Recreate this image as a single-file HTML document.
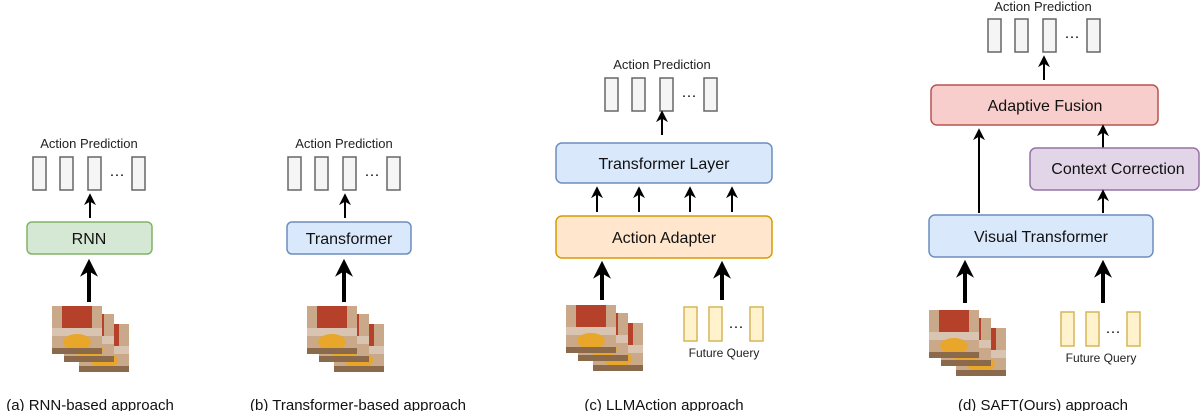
<!DOCTYPE html>
<html><head><meta charset="utf-8"><style>
html,body{margin:0;padding:0;background:#fff;}
svg{display:block;font-family:"Liberation Sans",Arial,sans-serif;}
</style></head><body>
<svg width="1200" height="411" viewBox="0 0 1200 411" xmlns="http://www.w3.org/2000/svg">
<defs>
<marker id="ah" viewBox="0 0 10 10" refX="6" refY="5" markerUnits="userSpaceOnUse" markerWidth="12" markerHeight="12" orient="auto"><path d="M0,0 L10,5 L0,10 L3,5 z" fill="#000"/></marker>
<marker id="ahb" viewBox="0 0 10 10" refX="6" refY="5" markerUnits="userSpaceOnUse" markerWidth="18" markerHeight="18" orient="auto"><path d="M0,0 L10,5 L0,10 L3,5 z" fill="#000"/></marker>
<g id="pic">
  <rect width="50" height="48" fill="#c9a98a"/>
  <rect x="10" y="0" width="30" height="22" fill="#b5412b"/>
  <rect x="0" y="22" width="50" height="8" fill="#d8c4b0"/>
  <ellipse cx="25" cy="36" rx="14" ry="8" fill="#e8a62a"/>
  <rect x="0" y="42" width="50" height="6" fill="#8a6a4a"/>
</g>
<g id="stack">
  <use href="#pic" x="27" y="18"/>
  <use href="#pic" x="12" y="8"/>
  <use href="#pic" x="0" y="0"/>
</g>
<g id="pred">
  <rect x="0" y="0" width="13" height="33" fill="#f5f5f5" stroke="#666" stroke-width="1.5"/>
  <rect x="27" y="0" width="13" height="33" fill="#f5f5f5" stroke="#666" stroke-width="1.5"/>
  <rect x="55" y="0" width="13" height="33" fill="#f5f5f5" stroke="#666" stroke-width="1.5"/>
  <rect x="99" y="0" width="13" height="33" fill="#f5f5f5" stroke="#666" stroke-width="1.5"/>
  <text x="84" y="22" font-size="15" text-anchor="middle">···</text>
</g>
<g id="query">
  <rect x="0" y="0" width="13" height="34" fill="#fff2cc" stroke="#d6b656" stroke-width="1.5"/>
  <rect x="25" y="0" width="13" height="34" fill="#fff2cc" stroke="#d6b656" stroke-width="1.5"/>
  <rect x="66" y="0" width="13" height="34" fill="#fff2cc" stroke="#d6b656" stroke-width="1.5"/>
  <text x="52" y="24" font-size="15" text-anchor="middle">···</text>
  <text x="40" y="50" font-size="12" text-anchor="middle" fill="#222">Future Query</text>
</g>
</defs>

<!-- (a) -->
<text x="89" y="148" font-size="13" text-anchor="middle" fill="#222">Action Prediction</text>
<use href="#pred" x="33" y="157"/>
<line x1="90" y1="218" x2="90" y2="198" stroke="#000" stroke-width="2" marker-end="url(#ah)"/>
<rect x="27" y="222" width="125" height="32" rx="5" fill="#d5e8d4" stroke="#82b366" stroke-width="1.5"/>
<text x="89" y="244" font-size="16" text-anchor="middle" fill="#111">RNN</text>
<line x1="89" y1="302" x2="89" y2="266" stroke="#000" stroke-width="4" marker-end="url(#ahb)"/>
<use href="#stack" x="52" y="306"/>
<text x="90" y="410" font-size="15" text-anchor="middle" fill="#111">(a) RNN-based approach</text>

<!-- (b) -->
<text x="344" y="148" font-size="13" text-anchor="middle" fill="#222">Action Prediction</text>
<use href="#pred" x="288" y="157"/>
<line x1="345" y1="218" x2="345" y2="198" stroke="#000" stroke-width="2" marker-end="url(#ah)"/>
<rect x="287" y="222" width="124" height="32" rx="5" fill="#dae8fc" stroke="#6c8ebf" stroke-width="1.5"/>
<text x="349" y="244" font-size="16" text-anchor="middle" fill="#111">Transformer</text>
<line x1="344" y1="302" x2="344" y2="266" stroke="#000" stroke-width="4" marker-end="url(#ahb)"/>
<use href="#stack" x="307" y="306"/>
<text x="358" y="410" font-size="15" text-anchor="middle" fill="#111">(b) Transformer-based approach</text>

<!-- (c) -->
<text x="662" y="69" font-size="13" text-anchor="middle" fill="#222">Action Prediction</text>
<use href="#pred" x="605" y="78"/>
<line x1="662" y1="135" x2="662" y2="115" stroke="#000" stroke-width="2" marker-end="url(#ah)"/>
<rect x="556" y="143" width="216" height="40" rx="6" fill="#dae8fc" stroke="#6c8ebf" stroke-width="1.5"/>
<text x="664" y="169" font-size="16" text-anchor="middle" fill="#111">Transformer Layer</text>
<line x1="597" y1="212" x2="597" y2="191" stroke="#000" stroke-width="2" marker-end="url(#ah)"/>
<line x1="639" y1="212" x2="639" y2="191" stroke="#000" stroke-width="2" marker-end="url(#ah)"/>
<line x1="690" y1="212" x2="690" y2="191" stroke="#000" stroke-width="2" marker-end="url(#ah)"/>
<line x1="732" y1="212" x2="732" y2="191" stroke="#000" stroke-width="2" marker-end="url(#ah)"/>
<rect x="556" y="216" width="216" height="42" rx="6" fill="#ffe6cc" stroke="#d79b00" stroke-width="1.5"/>
<text x="664" y="243" font-size="16" text-anchor="middle" fill="#111">Action Adapter</text>
<line x1="602" y1="300" x2="602" y2="268" stroke="#000" stroke-width="4" marker-end="url(#ahb)"/>
<line x1="722" y1="300" x2="722" y2="268" stroke="#000" stroke-width="4" marker-end="url(#ahb)"/>
<use href="#stack" x="566" y="305"/>
<use href="#query" x="684" y="307"/>
<text x="664" y="410" font-size="15" text-anchor="middle" fill="#111">(c) LLMAction approach</text>

<!-- (d) -->
<text x="1043" y="11" font-size="13" text-anchor="middle" fill="#222">Action Prediction</text>
<use href="#pred" x="988" y="19"/>
<line x1="1044" y1="80" x2="1044" y2="60" stroke="#000" stroke-width="2" marker-end="url(#ah)"/>
<rect x="931" y="85" width="227" height="40" rx="6" fill="#f8cecc" stroke="#b85450" stroke-width="1.5"/>
<text x="1045" y="111" font-size="16" text-anchor="middle" fill="#111">Adaptive Fusion</text>
<line x1="979" y1="213" x2="979" y2="133" stroke="#000" stroke-width="2" marker-end="url(#ah)"/>
<line x1="1103" y1="148" x2="1103" y2="129" stroke="#000" stroke-width="2" marker-end="url(#ah)"/>
<rect x="1030" y="148" width="169" height="42" rx="6" fill="#e1d5e7" stroke="#9673a6" stroke-width="1.5"/>
<text x="1118" y="174" font-size="16" text-anchor="middle" fill="#111">Context Correction</text>
<line x1="1103" y1="213" x2="1103" y2="194" stroke="#000" stroke-width="2" marker-end="url(#ah)"/>
<rect x="929" y="215" width="224" height="42" rx="6" fill="#dae8fc" stroke="#6c8ebf" stroke-width="1.5"/>
<text x="1041" y="242" font-size="16" text-anchor="middle" fill="#111">Visual Transformer</text>
<line x1="965" y1="303" x2="965" y2="267" stroke="#000" stroke-width="4" marker-end="url(#ahb)"/>
<line x1="1103" y1="303" x2="1103" y2="267" stroke="#000" stroke-width="4" marker-end="url(#ahb)"/>
<use href="#stack" x="929" y="310"/>
<use href="#query" x="1061" y="312"/>
<text x="1043" y="410" font-size="15" text-anchor="middle" fill="#111">(d) SAFT(Ours) approach</text>
</svg>
</body></html>
